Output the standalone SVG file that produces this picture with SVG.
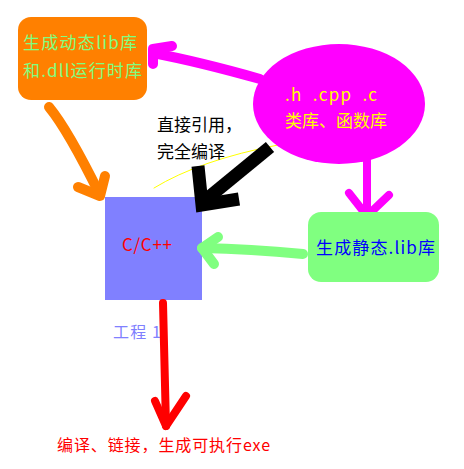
<svg xmlns="http://www.w3.org/2000/svg" width="464" height="469" viewBox="0 0 464 469">
<style>
text{font-family:"Noto Sans CJK SC","Liberation Sans",sans-serif;}
.arr{fill:none;stroke-linecap:round;stroke-linejoin:round;}
</style>
<rect width="464" height="469" fill="#ffffff"/>
<g id="project">
  <rect x="105" y="197" width="97" height="103" fill="#8080ff"/>
  <text x="122" y="251" font-size="17" fill="#ff0000" textLength="50">C/C++</text>
  <text x="113" y="338" font-size="16" fill="#8080ff" xml:space="preserve" textLength="48">工程 1</text>
</g>
<g id="connectors">
  <path class="arr" d="M154,188 Q200,160 278,145" stroke="#ffff00" stroke-width="1"/>
  <path class="arr" d="M260,79 Q200,62 153,53" stroke="#ff00ff" stroke-width="10"/>
  <path class="arr" d="M172,46 L153,49 L153,64" stroke="#ff00ff" stroke-width="10"/>
  <path class="arr" d="M367,160 L367,216" stroke="#ff00ff" stroke-width="8"/>
  <path class="arr" d="M349,193 L367,216 L389,195" stroke="#ff00ff" stroke-width="8"/>
  <path class="arr" d="M303,254 Q250,249 202,248" stroke="#80ff80" stroke-width="10"/>
  <path class="arr" d="M218,237 L202,248 L214,264" stroke="#80ff80" stroke-width="10"/>
  <path class="arr" d="M49,107 Q68,130 100,195" stroke="#ff8000" stroke-width="10"/>
  <path class="arr" d="M78,187 L100,196 L105,176" stroke="#ff8000" stroke-width="10"/>
  <path d="M270,147 L203,202" fill="none" stroke="#000000" stroke-width="13"/>
  <path d="M198,166 L202,205 L239,199" fill="none" stroke="#000000" stroke-width="13" stroke-linejoin="miter"/>
  <path class="arr" d="M163,303 L166,426" stroke="#ff0000" stroke-width="8"/>
  <path class="arr" d="M155,401 L166,426 L186,396" stroke="#ff0000" stroke-width="8"/>
</g>
<g id="dll">
  <rect x="18" y="17" width="129" height="83" rx="13" fill="#ff8000"/>
  <text x="23" y="49" font-size="17" fill="#80ff80" textLength="114">生成动态lib库</text>
  <text x="23" y="77" font-size="17" fill="#80ff80" textLength="119">和.dll运行时库</text>
</g>
<g id="source">
  <ellipse cx="339" cy="104" rx="86" ry="60" fill="#ff00ff"/>
  <text x="285" y="101" font-size="17" fill="#ffff00" xml:space="preserve" textLength="92">.h  .cpp  .c</text>
  <text x="285" y="127" font-size="17" fill="#ffff00" textLength="102">类库、函数库</text>
</g>
<g id="static">
  <rect x="308" y="212" width="131" height="70" rx="13" fill="#80ff80"/>
  <text x="316" y="254" font-size="17" fill="#0000ff" textLength="119">生成静态.lib库</text>
</g>
<g id="note">
  <text x="157" y="131" font-size="17" fill="#000000">直接引用，</text>
  <text x="157" y="158" font-size="17" fill="#000000">完全编译</text>
</g>
<g id="output">
  <text x="57" y="451" font-size="16" fill="#ff0000" textLength="213">编译、链接，生成可执行exe</text>
</g>
</svg>
